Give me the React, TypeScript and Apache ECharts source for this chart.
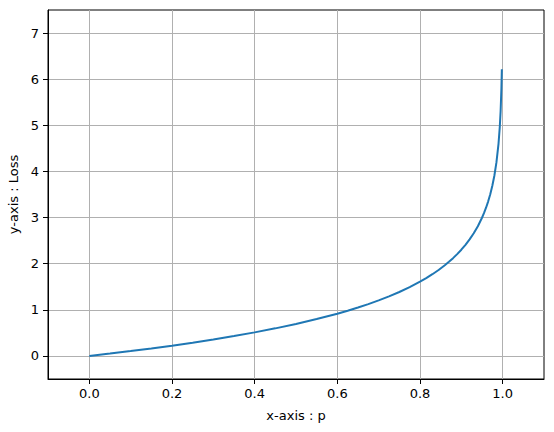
import React, { useEffect, useRef } from "react";
import * as echarts from "echarts";

const pValues = [0, 0.05, 0.1, 0.15, 0.2, 0.25, 0.3, 0.35, 0.4, 0.45, 0.5, 0.55, 0.6, 0.625, 0.65, 0.675, 0.7, 0.725, 0.75, 0.775, 0.8, 0.815, 0.83, 0.845, 0.86, 0.87, 0.88, 0.89, 0.9, 0.91, 0.92, 0.93, 0.94, 0.95, 0.955, 0.96, 0.965, 0.97, 0.975, 0.98, 0.985, 0.99, 0.993, 0.995, 0.997, 0.998];
const lossValues = [0, 0.051, 0.105, 0.163, 0.223, 0.288, 0.357, 0.431, 0.511, 0.598, 0.693, 0.799, 0.916, 0.981, 1.05, 1.124, 1.204, 1.291, 1.386, 1.492, 1.609, 1.687, 1.772, 1.864, 1.966, 2.04, 2.12, 2.207, 2.303, 2.408, 2.526, 2.659, 2.813, 2.996, 3.101, 3.219, 3.352, 3.507, 3.689, 3.912, 4.2, 4.605, 4.962, 5.298, 5.809, 6.215];
const xTicks = [0, 0.2, 0.4, 0.6, 0.8, 1.0];
const yTicks = [0, 1, 2, 3, 4, 5, 6, 7];

export default function App() {
  const ref = useRef<HTMLDivElement>(null);
  useEffect(() => {
    const chart = echarts.init(ref.current!, null, { renderer: "svg" });
    const font = "DejaVu Sans";
    chart.setOption({
      animation: false,
      grid: {
        left: 48,
        top: 10,
        width: 496,
        height: 369,
        show: true,
        borderColor: "#000",
        borderWidth: 1,
        backgroundColor: "transparent",
        containLabel: false,
        outerBoundsMode: "none",
      },
      xAxis: {
        type: "value",
        min: -0.1,
        max: 1.1,
        name: "x-axis : p",
        nameLocation: "middle",
        nameGap: 30,
        nameTextStyle: { fontFamily: font, fontSize: 13, color: "#000" },
        axisLine: { show: true, onZero: false, lineStyle: { color: "#000", width: 1 } },
        axisTick: { show: true, length: 5, customValues: xTicks, lineStyle: { color: "#000" } },
        axisLabel: {
          customValues: xTicks,
          fontFamily: font,
          fontSize: 13,
          color: "#000",
          margin: 8,
          formatter: (v: number) => v.toFixed(1),
        },
        splitLine: { show: true, lineStyle: { color: "#b0b0b0", width: 1 } },
      },
      yAxis: {
        type: "value",
        min: -0.5,
        max: 7.5,
        name: "y-axis : Loss",
        nameLocation: "middle",
        nameGap: 27,
        nameTextStyle: { fontFamily: font, fontSize: 13, color: "#000" },
        axisLine: { show: true, onZero: false, lineStyle: { color: "#000", width: 1 } },
        axisTick: { show: true, length: 5, customValues: yTicks, lineStyle: { color: "#000" } },
        axisLabel: {
          customValues: yTicks,
          fontFamily: font,
          fontSize: 13,
          color: "#000",
          margin: 9,
        },
        splitLine: { show: true, lineStyle: { color: "#b0b0b0", width: 1 } },
      },
      series: [
        {
          type: "line",
          data: pValues.map((p, i) => [p, lossValues[i]]),
          showSymbol: false,
          smooth: false,
          lineStyle: { color: "#1f77b4", width: 2 },
          z: 3,
        },
      ],
    });
    return () => chart.dispose();
  }, []);
  return <div ref={ref} style={{ width: 554, height: 432, position: "absolute", left: 0, top: 0 }} />;
}
